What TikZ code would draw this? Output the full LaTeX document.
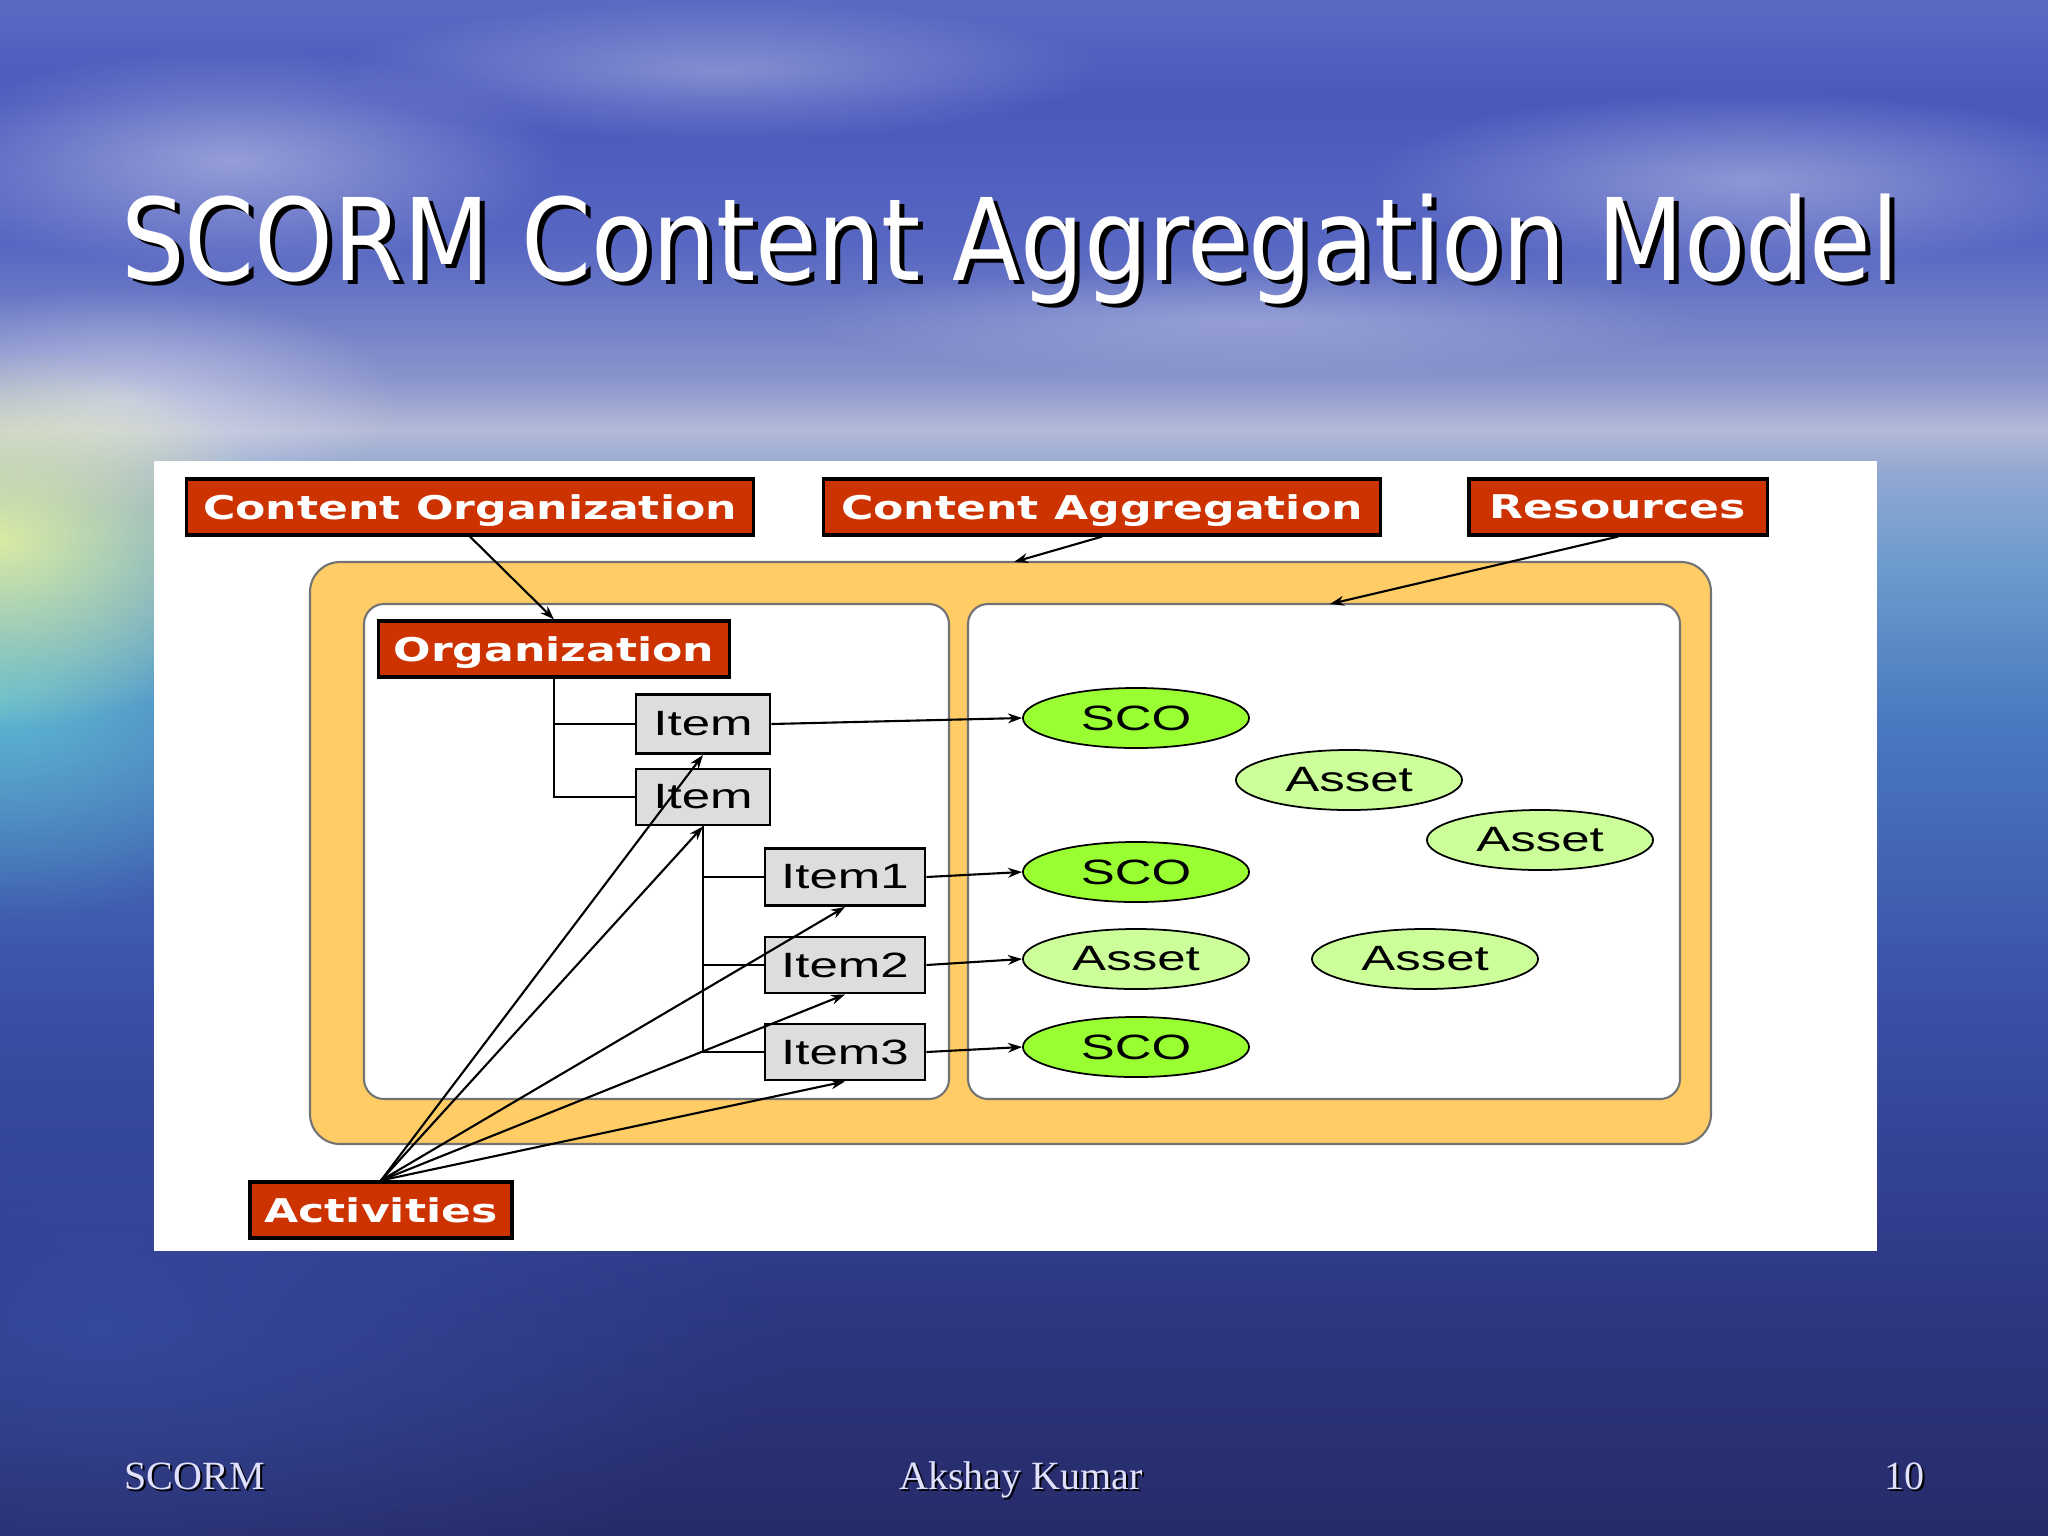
\documentclass[tikz,border=0pt]{standalone}
\usepackage{fontspec}
\setmainfont{Liberation Serif}
\newfontfamily\titlefont[FakeStretch=0.88]{DejaVu Sans}
\newfontfamily\labelfont[FakeStretch=1.35]{DejaVu Sans}
\newfontfamily\itemfont[FakeStretch=1.45]{Liberation Sans}
\usetikzlibrary{arrows.meta,shapes.geometric,fadings}

\definecolor{labelred}{HTML}{CC3300}
\definecolor{boxorange}{HTML}{FFCC66}
\definecolor{itemgray}{HTML}{DDDDDD}
\definecolor{scogreen}{HTML}{99FF33}
\definecolor{assetgreen}{HTML}{CCFF99}
% sea and sky, bottom to top
\definecolor{seaA}{HTML}{262B68}
\definecolor{seaB}{HTML}{2D3783}
\definecolor{seaC}{HTML}{3A50A6}
\definecolor{seaD}{HTML}{4A79C0}
\definecolor{seaE}{HTML}{6E9CCD}
\definecolor{hazeA}{HTML}{93A8D2}
\definecolor{hazeB}{HTML}{B4BAD6}
\definecolor{skyA}{HTML}{8A95CC}
\definecolor{skyB}{HTML}{5867C2}
\definecolor{skyC}{HTML}{4A58BC}
\definecolor{skyD}{HTML}{5A6AC2}
\definecolor{glowyellow}{HTML}{E4F2A0}
\definecolor{glowcyan}{HTML}{62C8D6}

\pgfdeclareverticalshading{seasky}{100bp}{color(0bp)=(seaA); color(25bp)=(seaA);
  color(32.7bp)=(seaB); color(42.4bp)=(seaC); color(51.6bp)=(seaD);
  color(56.8bp)=(seaE); color(59.7bp)=(hazeA); color(61bp)=(hazeB);
  color(62.6bp)=(skyA); color(66.9bp)=(skyB); color(71.7bp)=(skyC);
  color(75bp)=(skyD); color(100bp)=(skyD)}
\tikzfading[name=softglow, inner color=transparent!0, outer color=transparent!100]

\begin{document}
\begin{tikzpicture}[x=0.01cm,y=-0.01cm,
    cloud/.style={white,path fading=softglow,opacity=#1},
    lbl/.style={draw=black,line width=0.9pt,fill=labelred,text=white,inner sep=0pt,
      minimum height=0.56cm,text depth=0pt,font=\labelfont\bfseries\fontsize{9.3}{11}\selectfont},
    itembox/.style={draw=black,line width=0.8pt,fill=itemgray,inner sep=0pt,
      minimum width=1.6cm,minimum height=0.57cm,font=\itemfont\fontsize{10}{12}\selectfont},
    res/.style={ellipse,draw=black,line width=0.5pt,inner sep=0pt,minimum width=2.26cm,
      minimum height=0.6cm,font=\itemfont\fontsize{10}{12}\selectfont},
    sco/.style={res,fill=scogreen},
    asset/.style={res,fill=assetgreen},
    link/.style={line width=0.6pt,-{Stealth[length=4pt,width=2.8pt]}},
    tree/.style={line width=0.8pt},
    foot/.style={inner sep=0pt,font=\fontsize{11.4}{13}\selectfont}]
  \useasboundingbox (0,0) rectangle (2048,1536);

  % background
  \shade[shading=seasky] (0,0) rectangle (2048,1536);
  \fill[cloud=.4] (230,160) ellipse [x radius=330, y radius=110];
  \fill[cloud=.3] (720,70) ellipse [x radius=380, y radius=70];
  \fill[cloud=.35] (1750,180) ellipse [x radius=380, y radius=90];
  \fill[cloud=.25] (1250,320) ellipse [x radius=450, y radius=55];
  \fill[cloud=.45] (120,400) ellipse [x radius=280, y radius=110];
  \fill[seaC,path fading=softglow,opacity=.7] (100,1330) ellipse [x radius=700, y radius=300];
  \fill[glowcyan,path fading=softglow,opacity=.8] (0,700) ellipse [x radius=330, y radius=220];
  \fill[glowyellow,path fading=softglow,opacity=.9] (0,540) ellipse [x radius=280, y radius=190];

  % title
  \node[anchor=base,inner sep=0pt,text=black,font=\titlefont\fontsize{32.4}{38}\selectfont] at (1015,284) {SCORM Content Aggregation Model};
  \node[anchor=base,inner sep=0pt,text=white,font=\titlefont\fontsize{32.4}{38}\selectfont] at (1010,280) {SCORM Content Aggregation Model};

  % panel
  \fill[white] (154,461) rectangle (1877,1251);
  \draw[fill=boxorange,draw=black!55,line width=0.6pt,rounded corners=0.3cm] (310,562) rectangle (1711,1144);
  \draw[fill=white,draw=black!55,line width=0.6pt,rounded corners=0.2cm] (364,604) rectangle (949,1099);
  \draw[fill=white,draw=black!55,line width=0.6pt,rounded corners=0.2cm] (968,604) rectangle (1680,1099);
  \coordinate (aggtop) at (1014,562);
  \coordinate (restop) at (1330,604);

  % labels
  \node[lbl,minimum width=5.67cm] (corg) at (470,507) {Content Organization};
  \node[lbl,minimum width=5.56cm] (cagg) at (1102,507) {Content Aggregation};
  \node[lbl,minimum width=2.98cm] (reso) at (1618,507) {Resources};
  \node[lbl,minimum width=3.5cm] (org) at (554,649) {Organization};
  \node[lbl,minimum width=2.62cm] (act) at (381,1210) {Activities};

  % items
  \node[itembox,minimum width=1.34cm,minimum height=0.59cm] (it1) at (703,724) {Item};
  \node[itembox,minimum width=1.34cm,minimum height=0.56cm] (it2) at (703,797) {Item};
  \node[itembox] (sub1) at (845,877) {Item1};
  \node[itembox,minimum height=0.56cm] (sub2) at (845,965) {Item2};
  \node[itembox,minimum height=0.56cm] (sub3) at (845,1052) {Item3};

  % resources
  \node[sco] (sco1) at (1136,718) {SCO};
  \node[asset] (ast1) at (1349,780) {Asset};
  \node[asset] (ast2) at (1540,840) {Asset};
  \node[sco] (sco2) at (1136,872) {SCO};
  \node[asset] (ast3) at (1136,959) {Asset};
  \node[asset] (ast4) at (1425,959) {Asset};
  \node[sco] (sco3) at (1136,1047) {SCO};

  % tree
  \draw[tree] (org.south) |- (it1.west);
  \draw[tree] (org.south) |- (it2.west);
  \foreach \s in {sub1,sub2,sub3}
    \draw[tree] (it2.south) |- (\s.west);

  % links
  \draw[link] (corg.south) -- (org.north);
  \draw[link] (cagg.south) -- (aggtop);
  \draw[link] (reso.south) -- (restop);
  \draw[link] (it1.east) -- (sco1.west);
  \draw[link] (sub1.east) -- (sco2.west);
  \draw[link] (sub2.east) -- (ast3.west);
  \draw[link] (sub3.east) -- (sco3.west);
  \foreach \s in {it1,it2,sub1,sub2,sub3}
    \draw[link] (act.north) -- (\s.south);

  % footer
  \node[foot,anchor=base west,text=black] at (126,1491) {SCORM};
  \node[foot,anchor=base west,text=white!88!blue] at (124,1489) {SCORM};
  \node[foot,anchor=base,text=black] at (1023,1491) {Akshay Kumar};
  \node[foot,anchor=base,text=white!88!blue] at (1021,1489) {Akshay Kumar};
  \node[foot,anchor=base east,text=black] at (1927,1491) {10};
  \node[foot,anchor=base east,text=white!88!blue] at (1925,1489) {10};
\end{tikzpicture}
\end{document}
